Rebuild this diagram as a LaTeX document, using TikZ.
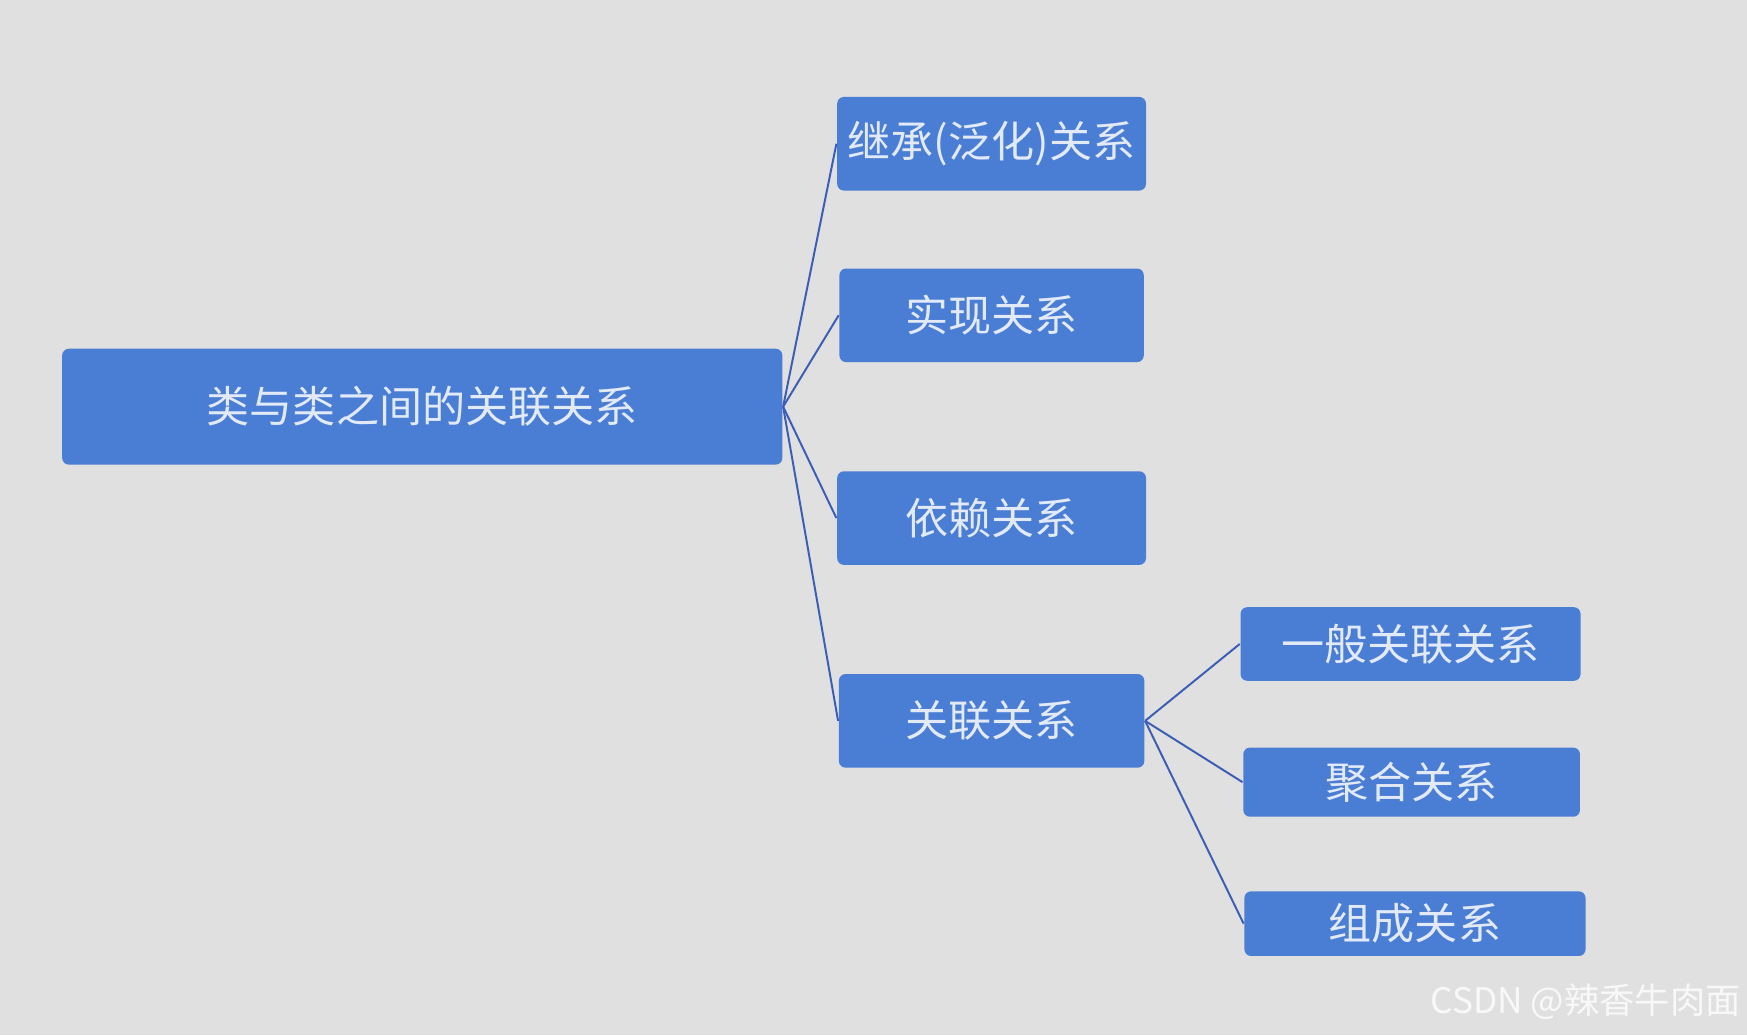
\documentclass[tikz,border=0pt]{standalone}
\usepackage{fontspec}
\newfontfamily\cjk{Noto Sans CJK SC}
\definecolor{bg}{HTML}{E0E0E0}
\definecolor{boxc}{HTML}{4A7DD4}
\definecolor{txt}{HTML}{E2E9F7}
\definecolor{lnc}{HTML}{3B5DB5}
\tikzset{
  bx/.style={fill=boxc,rounded corners=0.06cm,inner sep=0pt,font=\cjk\fontsize{11pt}{13pt}\selectfont,text=txt},
  ln/.style={draw=lnc,line width=0.5pt}
}
\begin{document}
\begin{tikzpicture}[x=0.01cm,y=-0.01cm]
\fill[bg] (0,0) rectangle (1568,929);
\useasboundingbox (0,0) rectangle (1568,929);
\node[bx,minimum width=6.46cm,minimum height=1.04cm] (root) at (379,365) {类与类之间的关联关系};
\node[bx,minimum width=2.77cm,minimum height=0.84cm] (a) at (890,129) {继承(泛化)关系};
\node[bx,minimum width=2.73cm,minimum height=0.84cm] (b) at (890,283) {实现关系};
\node[bx,minimum width=2.77cm,minimum height=0.84cm] (c) at (890,465) {依赖关系};
\node[bx,minimum width=2.74cm,minimum height=0.84cm] (d) at (890,647) {关联关系};
\node[bx,minimum width=3.05cm,minimum height=0.66cm] (e) at (1266,578) {一般关联关系};
\node[bx,minimum width=3.02cm,minimum height=0.62cm] (f) at (1267,702) {聚合关系};
\node[bx,minimum width=3.06cm,minimum height=0.58cm] (g) at (1270,829) {组成关系};
\foreach \t in {a,b,c,d} \draw[ln] (root.east) -- (\t.west);
\foreach \t in {e,f,g} \draw[ln] (d.east) -- (\t.west);
\node[anchor=south east,inner sep=0pt,font=\cjk\fontsize{9pt}{10pt}\selectfont,text=white,opacity=0.8] (wm) at (1563,916) {CSDN @辣香牛肉面};
\end{tikzpicture}
\end{document}
